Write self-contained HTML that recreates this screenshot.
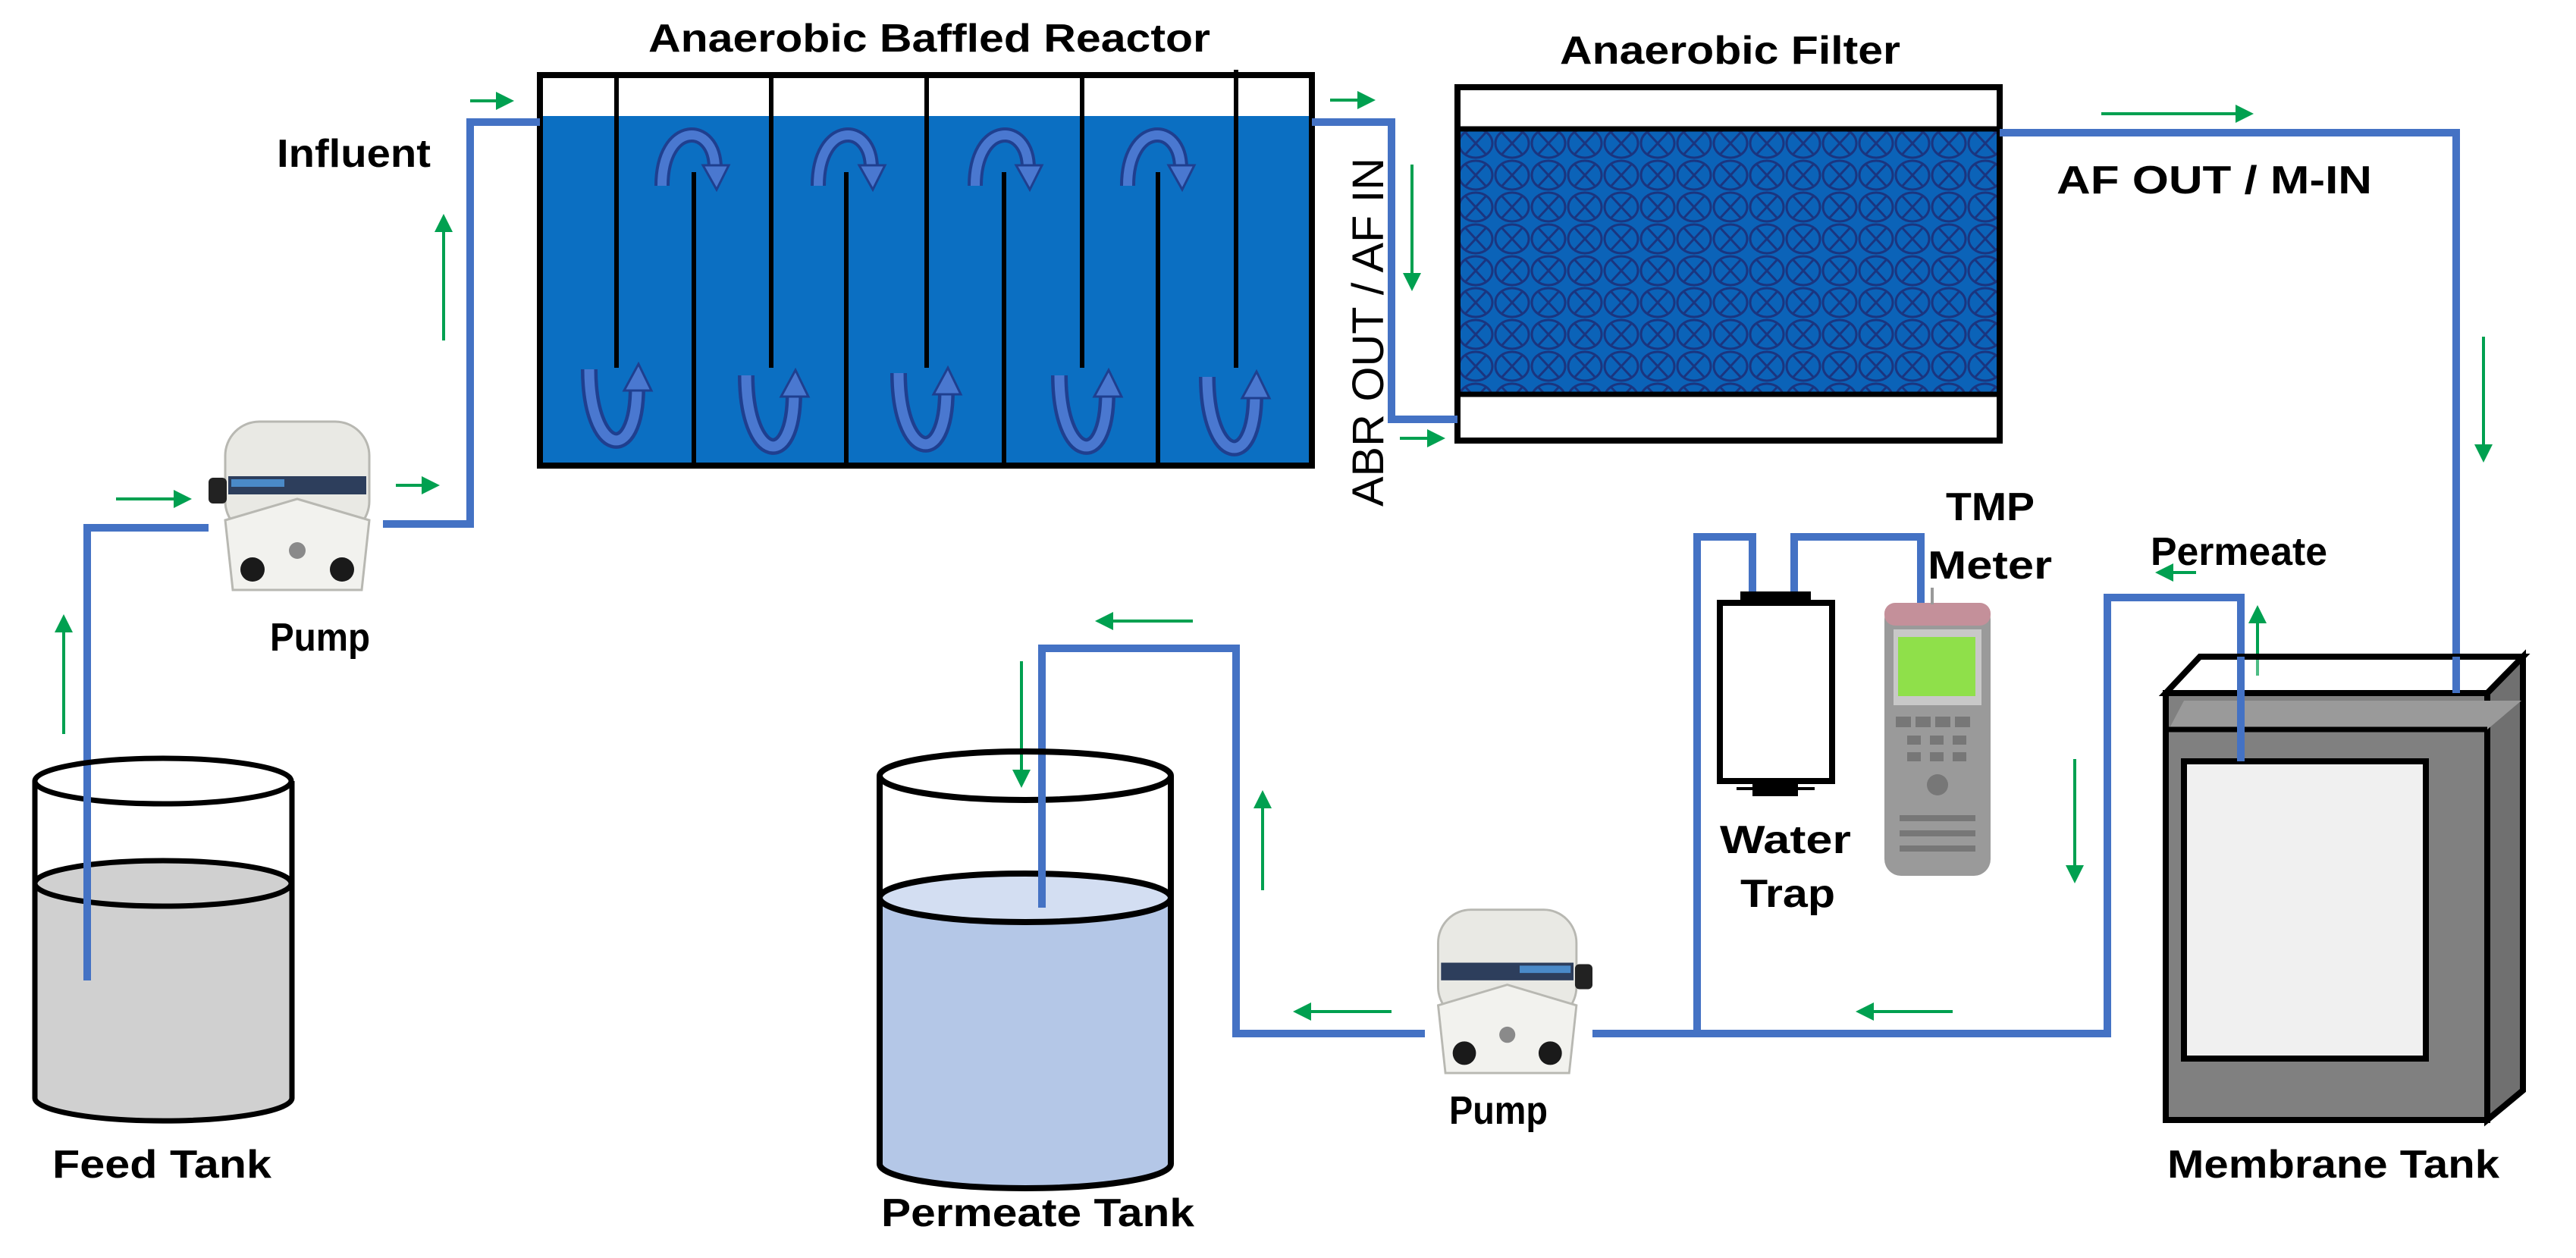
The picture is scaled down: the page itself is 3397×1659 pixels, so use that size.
<!DOCTYPE html>
<html><head><meta charset="utf-8"><style>html,body{margin:0;padding:0;background:#fff}svg{display:block}</style></head>
<body>
<svg width="3397" height="1659" viewBox="0 0 3397 1659" xmlns="http://www.w3.org/2000/svg">
<defs>
<marker id="ah" markerWidth="6" markerHeight="6" refX="4" refY="3" orient="auto" markerUnits="strokeWidth">
<path d="M0,0 L6,3 L0,6 z" fill="#00A050"/></marker>
<pattern id="pk" width="48" height="42" patternUnits="userSpaceOnUse" x="1922" y="168">
<rect width="48" height="42" fill="#0B63B8"/>
<g fill="none" stroke="#1a3580" stroke-width="3">
<ellipse cx="24" cy="21" rx="22" ry="19"/>
<line x1="10" y1="6" x2="38" y2="36"/><line x1="38" y1="6" x2="10" y2="36"/>
</g></pattern>
<g id="pump">
<rect x="22" y="10" width="190" height="150" rx="45" fill="#e9e9e4" stroke="#b8b8b2" stroke-width="3"/>
<rect x="26" y="82" width="182" height="24" fill="#2d3e5c"/>
<rect x="30" y="86" width="70" height="10" fill="#4a8ac8"/>
<polygon points="22,140 117,112 212,140 202,232 32,232" fill="#f2f2ee" stroke="#b8b8b2" stroke-width="3"/>
<circle cx="58" cy="205" r="16" fill="#1a1a1a"/><circle cx="176" cy="205" r="16" fill="#1a1a1a"/>
<circle cx="117" cy="180" r="11" fill="#8a8a8a"/>
<rect x="0" y="84" width="24" height="34" rx="6" fill="#222"/>
</g>
<g id="uarr">
<path d="M-38,487 C-38,600 25,615 25,510" fill="none" stroke="#1F3F8F" stroke-width="22"/>
<path d="M-38,487 C-38,600 25,615 25,510" fill="none" stroke="#4A78D0" stroke-width="13"/>
<polygon points="8,515 27,480 44,515" fill="#4A78D0" stroke="#1F3F8F" stroke-width="3"/>
</g>
<g id="narr">
<path d="M-40,245 C-40,160 30,160 30,222" fill="none" stroke="#1F3F8F" stroke-width="20"/>
<path d="M-40,245 C-40,160 30,160 30,222" fill="none" stroke="#4A78D0" stroke-width="12"/>
<polygon points="14,218 32,250 48,218" fill="#4A78D0" stroke="#1F3F8F" stroke-width="3"/>
</g>
</defs>

<g font-family="'Liberation Sans Narrow','Liberation Sans',sans-serif" font-weight="bold" font-size="52" fill="#000">
<text x="855" y="68" textLength="741" lengthAdjust="spacingAndGlyphs">Anaerobic Baffled Reactor</text>
<text x="2057" y="84" textLength="449" lengthAdjust="spacingAndGlyphs">Anaerobic Filter</text>
<text x="365" y="220" textLength="203" lengthAdjust="spacingAndGlyphs">Influent</text>
<text x="2712" y="255" textLength="416" lengthAdjust="spacingAndGlyphs">AF OUT / M-IN</text>
<text x="356" y="858" textLength="132" lengthAdjust="spacingAndGlyphs">Pump</text>
<text x="69" y="1553" textLength="289" lengthAdjust="spacingAndGlyphs">Feed Tank</text>
<text x="1162" y="1617" textLength="413" lengthAdjust="spacingAndGlyphs">Permeate Tank</text>
<text x="2858" y="1553" textLength="438" lengthAdjust="spacingAndGlyphs">Membrane Tank</text>
<text x="1911" y="1482" textLength="130" lengthAdjust="spacingAndGlyphs">Pump</text>
<text x="2268" y="1125" textLength="173" lengthAdjust="spacingAndGlyphs">Water</text>
<text x="2295" y="1196" textLength="125" lengthAdjust="spacingAndGlyphs">Trap</text>
<text x="2566" y="686" textLength="117" lengthAdjust="spacingAndGlyphs">TMP</text>
<text x="2542" y="763" textLength="164" lengthAdjust="spacingAndGlyphs">Meter</text>
<text x="2836" y="745" textLength="233" lengthAdjust="spacingAndGlyphs">Permeate</text>
</g>
<text transform="translate(1824,438) rotate(-90)" text-anchor="middle" font-family="'Liberation Sans',sans-serif" font-size="58" textLength="460" lengthAdjust="spacingAndGlyphs">ABR OUT / AF IN</text>

<!-- ABR -->
<rect x="712" y="153" width="1018" height="461" fill="#0B6FC2"/>
<rect x="712" y="99" width="1018" height="515" fill="none" stroke="#000" stroke-width="8"/>
<g stroke="#000" stroke-width="6">
<line x1="813" y1="99" x2="813" y2="485"/><line x1="1017" y1="99" x2="1017" y2="485"/>
<line x1="1222" y1="99" x2="1222" y2="485"/><line x1="1427" y1="99" x2="1427" y2="485"/>
<line x1="1630" y1="92" x2="1630" y2="485"/>
<line x1="915" y1="227" x2="915" y2="614"/><line x1="1116" y1="227" x2="1116" y2="614"/>
<line x1="1324" y1="227" x2="1324" y2="614"/><line x1="1527" y1="227" x2="1527" y2="614"/>
</g>
<use href="#uarr" x="815" y="0"/><use href="#uarr" x="1022" y="8"/><use href="#uarr" x="1223" y="5"/><use href="#uarr" x="1435" y="8"/><use href="#uarr" x="1630" y="10"/>
<use href="#narr" x="913" y="0"/><use href="#narr" x="1119" y="0"/><use href="#narr" x="1326" y="0"/><use href="#narr" x="1527" y="0"/>

<!-- AF -->
<rect x="1922" y="168" width="715" height="352" fill="url(#pk)"/>
<rect x="1922" y="115" width="715" height="466" fill="none" stroke="#000" stroke-width="8"/>
<line x1="1922" y1="170" x2="2637" y2="170" stroke="#000" stroke-width="7"/>
<line x1="1922" y1="520" x2="2637" y2="520" stroke="#000" stroke-width="7"/>

<!-- pipes -->
<g fill="none" stroke="#4472C4" stroke-width="10">
<polyline points="115,1293 115,696 275,696"/>
<polyline points="505,691 620,691 620,161 712,161"/>
<polyline points="1730,161 1835,161 1835,553 1922,553"/>
<polyline points="2637,175 3239,175 3239,914"/>
<polyline points="2955,1004 2955,788 2779,788 2779,1363 2100,1363"/>
<polyline points="1879,1363 1630,1363 1630,855 1374,855 1374,1197"/>
<polyline points="2238,1363 2238,708 2311,708 2311,782"/>
<polyline points="2366,782 2366,708 2533,708 2533,795"/>
</g>

<!-- green arrows -->
<g stroke="#00A050" stroke-width="4" marker-end="url(#ah)" fill="none">
<line x1="84" y1="968" x2="84" y2="818"/>
<line x1="153" y1="658" x2="245" y2="658"/>
<line x1="522" y1="640" x2="572" y2="640"/>
<line x1="585" y1="449" x2="585" y2="290"/>
<line x1="620" y1="133" x2="670" y2="133"/>
<line x1="1754" y1="132" x2="1806" y2="132"/>
<line x1="1862" y1="217" x2="1862" y2="376"/>
<line x1="1846" y1="578" x2="1898" y2="578"/>
<line x1="2771" y1="150" x2="2964" y2="150"/>
<line x1="3275" y1="444" x2="3275" y2="602"/>
<line x1="2896" y1="755" x2="2850" y2="755"/>
<line x1="2977" y1="891" x2="2977" y2="806"/>
<line x1="2736" y1="1001" x2="2736" y2="1157"/>
<line x1="2575" y1="1334" x2="2455" y2="1334"/>
<line x1="1835" y1="1334" x2="1713" y2="1334"/>
<line x1="1665" y1="1174" x2="1665" y2="1050"/>
<line x1="1573" y1="819" x2="1452" y2="819"/>
<line x1="1347" y1="872" x2="1347" y2="1031"/>
</g>

<!-- feed tank -->
<path d="M46,1165 A169,30 0 0 1 385,1165 L385,1448 A169,30 0 0 1 46,1448 Z" fill="#d0d0d0"/>
<g fill="none" stroke="#000" stroke-width="7">
<ellipse cx="215" cy="1030" rx="169" ry="30"/>
<ellipse cx="215" cy="1165" rx="169" ry="30"/>
<path d="M46,1030 L46,1448 A169,30 0 0 0 385,1448 L385,1030"/>
</g>
<line x1="115" y1="1030" x2="115" y2="1293" stroke="#4472C4" stroke-width="10"/>

<!-- permeate tank -->
<path d="M1160,1184 A192,32 0 0 1 1544,1184 L1544,1535 A192,32 0 0 1 1160,1535 Z" fill="#B4C7E7"/>
<ellipse cx="1352" cy="1184" rx="192" ry="32" fill="#D3DEF2"/>
<g fill="none" stroke="#000" stroke-width="8">
<ellipse cx="1352" cy="1023" rx="192" ry="32"/>
<ellipse cx="1352" cy="1184" rx="192" ry="32"/>
<path d="M1160,1023 L1160,1535 A192,32 0 0 0 1544,1535 L1544,1023"/>
</g>
<line x1="1374" y1="1023" x2="1374" y2="1197" stroke="#4472C4" stroke-width="10"/>

<!-- membrane tank -->
<polygon points="3280,914 3327,866 3327,1438 3280,1477" fill="#707070" stroke="#000" stroke-width="8"/>
<rect x="2856" y="914" width="424" height="563" fill="#808080" stroke="#000" stroke-width="8"/>
<polygon points="2860,962 2880,924 3325,924 3280,962" fill="#9a9a9a"/>
<line x1="2856" y1="962" x2="3280" y2="962" stroke="#000" stroke-width="7"/>
<polygon points="2856,914 2901,866 3327,866 3280,914" fill="#fff" fill-opacity="0.3" stroke="#000" stroke-width="8"/>
<rect x="2880" y="1004" width="319" height="392" fill="#f0f0f0" stroke="#000" stroke-width="8"/>
<line x1="2955" y1="866" x2="2955" y2="1004" stroke="#4472C4" stroke-width="10"/>
<line x1="3239" y1="866" x2="3239" y2="914" stroke="#4472C4" stroke-width="10"/>

<!-- water trap -->
<rect x="2268" y="795" width="148" height="235" fill="#fff" stroke="#000" stroke-width="8"/>
<rect x="2295" y="780" width="93" height="16" fill="#000"/>
<rect x="2311" y="1030" width="60" height="20" fill="#000"/>
<line x1="2290" y1="1040" x2="2393" y2="1040" stroke="#000" stroke-width="4"/>

<!-- TMP meter -->
<rect x="2485" y="795" width="140" height="360" rx="22" fill="#9a9a9a"/>
<rect x="2485" y="795" width="140" height="30" rx="14" fill="#c4909a"/>
<line x1="2548" y1="775" x2="2548" y2="797" stroke="#999" stroke-width="4"/>
<rect x="2497" y="830" width="116" height="100" fill="#c8c8c8"/>
<rect x="2503" y="840" width="102" height="78" fill="#8fe04a"/>
<g fill="#777"><rect x="2500" y="945" width="20" height="14"/><rect x="2526" y="945" width="20" height="14"/><rect x="2552" y="945" width="20" height="14"/><rect x="2578" y="945" width="20" height="14"/>
<rect x="2515" y="970" width="18" height="12"/><rect x="2545" y="970" width="18" height="12"/><rect x="2575" y="970" width="18" height="12"/>
<rect x="2515" y="992" width="18" height="12"/><rect x="2545" y="992" width="18" height="12"/><rect x="2575" y="992" width="18" height="12"/>
<circle cx="2555" cy="1035" r="14"/><rect x="2505" y="1075" width="100" height="8"/><rect x="2505" y="1095" width="100" height="8"/><rect x="2505" y="1115" width="100" height="8"/></g>

<!-- pumps -->
<use href="#pump" transform="translate(275,546)"/>
<use href="#pump" transform="translate(2100,1190) scale(-0.96,0.97)"/>
</svg>
</body></html>
